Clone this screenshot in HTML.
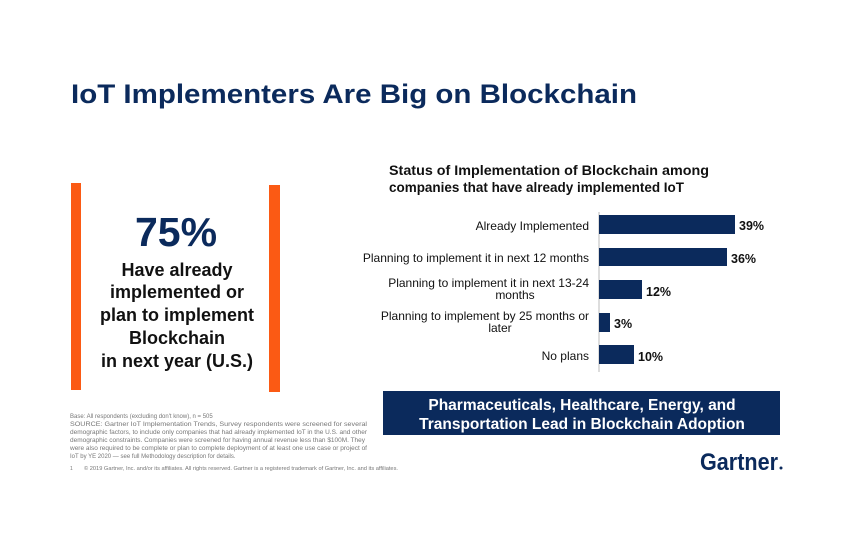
<!DOCTYPE html>
<html><head><meta charset="utf-8"><style>
body{margin:0;background:#fff;}
svg{display:block;font-family:"Liberation Sans",Arial,sans-serif;}
</style></head><body>
<svg width="850" height="550" viewBox="0 0 850 550" xmlns="http://www.w3.org/2000/svg">
<rect width="850" height="550" fill="#fff"/>
<text x="71" y="103" font-size="27" font-weight="bold" fill="#0b2a5c" textLength="566" lengthAdjust="spacingAndGlyphs">IoT Implementers Are Big on Blockchain</text>

<rect x="71" y="183" width="10" height="207" fill="#fb5a14"/>
<rect x="269" y="185" width="11" height="207" fill="#fb5a14"/>
<text x="176" y="246" font-size="41" font-weight="bold" fill="#0b2a5c" text-anchor="middle">75%</text>
<g font-size="18" font-weight="bold" fill="#111" text-anchor="middle">
<text x="177" y="276">Have already</text>
<text x="177" y="298">implemented or</text>
<text x="177" y="321">plan to implement</text>
<text x="177" y="344">Blockchain</text>
<text x="177" y="367">in next year (U.S.)</text>
</g>

<g font-size="14" font-weight="bold" fill="#111">
<text x="389" y="175" textLength="320" lengthAdjust="spacingAndGlyphs">Status of Implementation of Blockchain among</text>
<text x="389" y="192" textLength="295" lengthAdjust="spacingAndGlyphs">companies that have already implemented IoT</text>
</g>

<line x1="599" y1="212" x2="599" y2="372" stroke="#bbb" stroke-width="1"/>
<g fill="#0b2a5c">
<rect x="599" y="215" width="136" height="19"/>
<rect x="599" y="248" width="128" height="18"/>
<rect x="599" y="280" width="43" height="19"/>
<rect x="599" y="313" width="11" height="19"/>
<rect x="599" y="345" width="35" height="19"/>
</g>
<g font-size="12.5" font-weight="bold" fill="#111">
<text x="739" y="230">39%</text>
<text x="731" y="263">36%</text>
<text x="646" y="296">12%</text>
<text x="614" y="328">3%</text>
<text x="638" y="361">10%</text>
</g>
<g font-size="12" fill="#111" text-anchor="end">
<text x="589" y="230">Already Implemented</text>
<text x="589" y="262">Planning to implement it in next 12 months</text>
<text x="589" y="287">Planning to implement it in next 13-24</text>
<text x="515" y="299" text-anchor="middle">months</text>
<text x="589" y="320">Planning to implement by 25 months or</text>
<text x="500" y="332" text-anchor="middle">later</text>
<text x="589" y="360">No plans</text>
</g>

<rect x="383" y="391" width="397" height="44" fill="#0b2a5c"/>
<g font-size="15.5" font-weight="bold" fill="#fff" text-anchor="middle">
<text x="582" y="410">Pharmaceuticals, Healthcare, Energy, and</text>
<text x="582" y="429">Transportation Lead in Blockchain Adoption</text>
</g>

<text x="700" y="470" font-size="24" font-weight="bold" fill="#0b2a5c" textLength="78" lengthAdjust="spacingAndGlyphs">Gartner</text>
<circle cx="781" cy="468" r="1.5" fill="#0b2a5c"/>

<g font-size="6" fill="#777">
<text x="70" y="418">Base: All respondents (excluding don't know), n = 505</text>
<text x="70" y="426" textLength="297" lengthAdjust="spacingAndGlyphs">SOURCE:  Gartner IoT Implementation  Trends, Survey respondents were screened for several</text>
<text x="70" y="434" textLength="297" lengthAdjust="spacingAndGlyphs">demographic factors, to include only companies that had already implemented  IoT  in the U.S. and other</text>
<text x="70" y="442" textLength="295" lengthAdjust="spacingAndGlyphs">demographic constraints. Companies were screened for having annual revenue less than $100M. They</text>
<text x="70" y="450" textLength="297" lengthAdjust="spacingAndGlyphs">were also required to be complete or plan to complete deployment of at least one use case or project of</text>
<text x="70" y="458">IoT by YE 2020  — see full Methodology description for details.</text>
<text x="70" y="470" font-size="5">1</text>
<text x="84" y="470" font-size="5" textLength="314" lengthAdjust="spacingAndGlyphs">© 2019 Gartner, Inc. and/or its affiliates. All rights reserved. Gartner is a registered trademark of Gartner, Inc. and its affiliates.</text>
</g>
</svg>
</body></html>
